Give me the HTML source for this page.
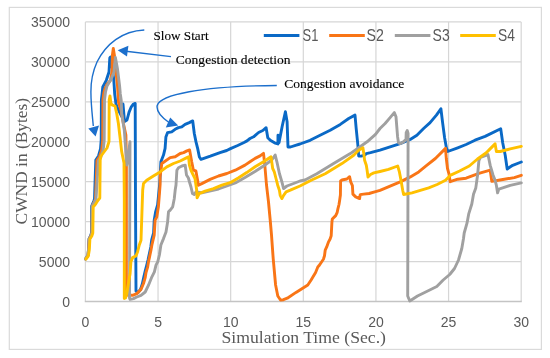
<!DOCTYPE html>
<html><head><meta charset="utf-8"><style>
html,body{margin:0;padding:0;background:#fff;}
svg{display:block;}
.tick{font-family:"Liberation Sans",sans-serif;font-size:14px;fill:#595959;}
.serif{font-family:"Liberation Serif",serif;fill:#000;}
.ann{stroke:#000;stroke-width:0.12px;}
</style></head><body>
<svg width="550" height="358" viewBox="0 0 550 358">
<rect x="0" y="0" width="550" height="358" fill="#fff"/>
<rect x="9.3" y="7.4" width="532.1" height="342" fill="none" stroke="#dadada" stroke-width="1.2"/>
<g stroke="#d6d6d6" stroke-width="1.2">
<line x1="85.4" y1="261.56" x2="521.2" y2="261.56"/>
<line x1="85.4" y1="221.61" x2="521.2" y2="221.61"/>
<line x1="85.4" y1="181.67" x2="521.2" y2="181.67"/>
<line x1="85.4" y1="141.73" x2="521.2" y2="141.73"/>
<line x1="85.4" y1="101.79" x2="521.2" y2="101.79"/>
<line x1="85.4" y1="61.84" x2="521.2" y2="61.84"/>
<line x1="85.4" y1="21.90" x2="521.2" y2="21.90"/>
<line x1="85.40" y1="21.9" x2="85.40" y2="301.5"/>
<line x1="158.03" y1="21.9" x2="158.03" y2="301.5"/>
<line x1="230.67" y1="21.9" x2="230.67" y2="301.5"/>
<line x1="303.30" y1="21.9" x2="303.30" y2="301.5"/>
<line x1="375.93" y1="21.9" x2="375.93" y2="301.5"/>
<line x1="448.57" y1="21.9" x2="448.57" y2="301.5"/>
<line x1="521.20" y1="21.9" x2="521.20" y2="301.5"/>
</g>
<line x1="84.80000000000001" y1="301.5" x2="521.8000000000001" y2="301.5" stroke="#c4c4c4" stroke-width="1.3"/>
<g class="tick">
<text x="70" y="306.50" text-anchor="end">0</text>
<text x="70" y="266.56" text-anchor="end">5000</text>
<text x="70" y="226.61" text-anchor="end">10000</text>
<text x="70" y="186.67" text-anchor="end">15000</text>
<text x="70" y="146.73" text-anchor="end">20000</text>
<text x="70" y="106.79" text-anchor="end">25000</text>
<text x="70" y="66.84" text-anchor="end">30000</text>
<text x="70" y="26.90" text-anchor="end">35000</text>
<text x="85.40" y="326.7" text-anchor="middle">0</text>
<text x="158.03" y="326.7" text-anchor="middle">5</text>
<text x="230.67" y="326.7" text-anchor="middle">10</text>
<text x="303.30" y="326.7" text-anchor="middle">15</text>
<text x="375.93" y="326.7" text-anchor="middle">20</text>
<text x="448.57" y="326.7" text-anchor="middle">25</text>
<text x="521.20" y="326.7" text-anchor="middle">30</text>
</g>
<g fill="none" stroke-width="2.9" stroke-linejoin="round" stroke-linecap="round">
<polyline stroke="#0A69C6" points="85.5,259 88,255 88.5,249 89,239 90.5,236 91.5,233 91.7,206 93.8,201 94.5,199 95.8,160 98.5,156 100.5,149 101.2,140 101.4,100 102.2,93 102.8,87 106.3,80.3 109,72 109.8,58 110.6,57 112.3,68 113.8,80 114.7,94 116,104 118.5,110 121.5,116 123,104 124.5,121.5 127,120 129,112.4 131.3,106.8 133.5,104 135.2,103.4 135.5,200 136,291 138,292.5 140.5,289.5 142.3,284 143.8,277 145.2,271 146.5,266 148,260 149.5,253 150.8,247 151.7,240 153.6,233 154.2,220.2 155.6,212 157.6,205 159.6,185 160.9,161.8 163.5,155.1 165.1,148.4 165.9,136.9 167.5,132.7 171.7,131.8 175.1,129.3 178.4,127.6 181.8,126.8 185.1,124.3 189.3,122.6 192.7,120.9 194.3,133.5 196,141.9 197.7,148.6 199.4,157 201,159.3 210.3,156.2 220,152.6 226.7,150.5 230.5,148.6 237.7,145.5 244,142.5 247,140.9 250,138.5 253.6,136.8 258.6,132.5 262.8,130.5 266.1,127.7 267.8,137.8 270.3,140.3 274.5,142.8 277.9,144 278,135.2 279,142.8 282.1,126.8 285.4,111.7 287.1,121.8 288,147 290.5,147 295.5,145.3 300,144 310.1,140.3 320.1,135.3 330.2,130.2 340.3,124.4 348.7,118.5 355,115.1 356.2,128.6 357.9,145.3 358.7,156 361.2,156.1 364.6,155.2 366.3,153.6 370.5,152.7 380,150.2 390.1,146.9 400.2,143.6 410.2,139.4 416.9,135.2 423.6,128.5 430.1,122.6 436.4,115.1 440.9,108.8 442.6,122.6 444.6,137.7 446.4,147.8 447.7,151.5 457.7,147.8 466.1,144.5 475,140.2 485.1,136.4 500.7,128.8 502.7,142.7 505.2,155.2 507.2,169 508.9,167.8 512.7,165.3 521.3,162"/>
<polyline stroke="#F97516" points="85.5,259 88,255.5 88.6,249 89.2,239 90.8,236 92,233 92.3,206 94.5,201.5 95.5,199 97,160.5 99.6,156.5 101.8,149.5 102.7,140 102.9,100 103.9,92.5 104.9,88.7 107,84.5 110.5,80.3 111.9,72 112.4,55.2 113.3,48.4 114.4,55.2 116,72 117.5,86 118,94 118.5,102 120.9,110 123.4,123.5 125.9,135 126.4,165 126.4,295 132.6,295.3 136.8,293.6 141,289.4 143.5,283.5 145.2,277.7 146,272.6 147.7,266.8 148.5,261.8 149.4,257.6 151,250 151.9,245 154.2,235.2 155.1,220.2 156.8,216.8 158.4,206.8 160.1,185 160.1,176.9 161.8,163.5 164.3,161.8 170.2,157.6 175.2,156.8 180.2,153.5 183.6,152.6 186.9,150.9 189.6,150 191.7,161.8 193.4,170.2 195.9,171 197.6,180.2 198.4,185.2 201.8,183.6 210.1,179.4 218.5,176 226.9,173.5 235.3,170.2 245,165.1 250,161.8 255.1,158.4 260.1,155.9 263.5,153.4 264.8,165 266.5,185 268.5,202 270.2,220 271.5,235 273.2,258.7 275.6,285 277.8,296 280.5,300 283.5,299.7 287.3,298.2 296,292.4 307.8,285 311.1,280 315.6,272.5 317.8,267 318.9,265.8 321.2,262.5 323.4,259.2 324.5,255.8 325.2,250.2 326.7,246.9 328.3,242.4 330.1,239 331.2,235.7 331.9,222.3 332.3,219 335.7,215.6 337.2,212.3 337.9,208.9 339,204.5 339.7,200 340.4,195 340.6,181 342,180 346.8,179 349.6,176.7 350.7,181.8 352.4,185.7 352.9,194.1 355.7,196.9 359.6,198.6 360.2,194.6 363.6,194.1 369.1,193.5 374.7,191.8 380,190.3 390.1,186.1 400.2,181.9 410.3,176.9 418.7,171.9 427,165.2 435.4,158.5 443.8,150.1 445.5,148.4 446.3,158.5 447.5,168.5 448.9,173.6 450.2,181.7 457.7,179.2 466.1,178.2 478.9,173.4 490.2,170.2 491.8,181.4 501.4,179.8 514.3,177.6 521.3,175.3"/>
<polyline stroke="#A0A0A0" points="85.5,259 88,255 88.7,249 89.3,239 91,236 92,233 92.5,206 95,201 96,199 98.4,161 100.8,157 103.2,150 104.2,140 104.5,100 105.5,92 107,86 111.2,79 114,72 115.4,57.5 117.5,69 119.6,86 120.3,94 121.2,100 121.7,113.5 124.3,130.2 126.8,165 130,141.7 129.5,298 130.1,299.4 133.5,298.6 136.8,297 141,295.3 145.2,292 148.5,285.2 151.9,276.8 154.4,271.8 156,265.1 157.7,261.8 159.4,255 160.9,245 163.5,238.6 166,231.9 167.6,221.9 168.5,211.8 170.2,210.1 172.7,206.8 174.3,198.4 175.2,190 176,185 176.9,170.2 178.5,167.7 181.9,166 185.2,165.2 186.5,175 188.4,178 189.5,182 191,187 192.5,193.6 194.2,194.6 195.9,192 201.8,192.8 218.5,189 235.3,183 245,177.5 255,171.5 263.5,166 271.8,160 275.2,155 276.9,161.8 279.4,173.5 281.9,181.9 283.6,188.6 286.9,186 293.6,183.5 300,181 305,180 316.8,173.7 333.6,163.6 350.3,153.6 358.7,147.7 367.1,141.8 375.5,134.3 380,128.5 385.1,123.5 390.1,117.6 394.3,112.6 396,116.8 396.8,126.8 397.6,136.9 398.5,142.7 400.2,143.6 403.5,141.9 406,139.4 406.2,132.7 407.2,130.5 408.1,133.5 407.7,296 409.8,301 417.5,296 427.2,291.3 436.8,286.5 443.2,280 449.7,274.5 454.5,268.5 458.5,260 461.8,248.5 463.5,238.5 464.2,233 467,223.2 468.8,213.6 471.8,204 473.5,194.3 475.8,187.9 477.6,175 478.9,160.5 480.5,157.3 485.4,155.7 488,154.5 490.2,165.4 493,175 495.1,180.4 496.4,185.4 497.6,192.9 498.9,189.1 502.7,187.9 510.2,185.4 521.3,182.9"/>
<polyline stroke="#FFC000" points="86,259 88.3,256 89.3,250 89.9,239 91.8,236 92.8,233 93.2,207 95.8,203.8 98.2,200 99.8,198 100.2,160 101,156 104,152 107,148 109,141.6 109.2,100 110,95.9 110.9,103.5 112.5,105.1 115,106 116.7,113.5 118.4,123.5 120,137 121.7,151.8 124,163 124.3,200 124.3,298.5 125.5,298 126.8,293.6 128.4,283.5 130.1,273.5 130.9,261.8 132.6,257.6 136,255.9 137.6,251.7 139.3,245 141,240.3 142.7,190 143.5,183.6 146.7,180.3 153.4,176 160.1,171.9 166.8,166.9 173.5,163.5 180.2,161 186.9,157.6 188.6,156.8 189.4,165 190.9,170.2 192.5,173.5 195,178.5 196.7,190.3 197.1,197.8 199.2,193.6 205.1,191.1 213.5,188.6 221.9,185.2 230.2,182.7 238.6,177.7 246.7,172.6 255.1,166.8 263.5,161.8 271,156.7 272.7,168.5 274.3,171.8 276,178.5 277.7,185.2 279.4,190.2 280.2,195.3 281.9,198.6 283.6,195.3 286.1,191.9 290.3,190.2 300,186 311.7,180 325.2,173.7 341.9,163.6 353.7,155.2 358.7,150.2 362.9,147.7 363.8,153.6 364.6,160.3 366.3,165.3 367.1,170.3 368,177 370.5,174.5 373.8,172.9 380,171.5 388.5,169.4 397.7,166 399.4,171.9 401,180.3 402.7,190.3 403.6,194.5 412,192.9 420.3,190.3 428.7,187.8 437.1,184.5 445.5,180.3 450.2,175.4 459.6,171 469.3,166 477.5,159 486.3,152.7 490.1,148.9 495.1,143.9 496.4,151.5 500.2,151.5 510.2,148.9 521.3,146.4"/>
</g>
<g stroke-width="2.8" stroke-linecap="butt">
<line x1="263.8" y1="35.5" x2="299.4" y2="35.5" stroke="#0A69C6"/>
<line x1="329.2" y1="35.5" x2="364.8" y2="35.5" stroke="#F97516"/>
<line x1="394.8" y1="35.5" x2="430.4" y2="35.5" stroke="#A0A0A0"/>
<line x1="460.2" y1="35.5" x2="495.8" y2="35.5" stroke="#FFC000"/>
</g>
<g class="tick" style="font-size:16.5px">
<text x="302.6" y="40.7" textLength="15.8" lengthAdjust="spacingAndGlyphs">S1</text>
<text x="366.6" y="40.7" textLength="17.3" lengthAdjust="spacingAndGlyphs">S2</text>
<text x="432.6" y="40.7" textLength="17.1" lengthAdjust="spacingAndGlyphs">S3</text>
<text x="498" y="40.7" textLength="16.9" lengthAdjust="spacingAndGlyphs">S4</text>
</g>
<g fill="none" stroke="#1C6FCC" stroke-width="1.4">
<path d="M144.3,30 C122,31 106,44 97,62 C92.5,72 90.8,82 90.9,92 C91,105 92.3,115 93.3,126"/>
<path d="M171,56.6 L126,51.3"/>
<path d="M276.8,85.5 C200,86 160,95 157.2,105.5 C156,112 161,117 169,122.5"/>
</g>
<g fill="#1C6FCC">
<polygon points="95.6,136.4 88.3,128.6 99,125.4"/>
<polygon points="117.7,50.2 128.4,45.8 127,56.6"/>
<polygon points="178.2,125.4 165.8,127.4 170.2,117.4"/>
</g>
<g class="serif ann" style="font-size:13.4px">
<text x="153.5" y="39.8" textLength="55.2" lengthAdjust="spacingAndGlyphs">Slow Start</text>
<text x="175.8" y="63.5" textLength="114.7" lengthAdjust="spacingAndGlyphs">Congestion detection</text>
<text x="284.3" y="88" textLength="120" lengthAdjust="spacingAndGlyphs">Congestion avoidance</text>
</g>
<text class="serif" x="221.5" y="342.8" textLength="164.5" lengthAdjust="spacingAndGlyphs" style="font-size:17px;fill:#595959">Simulation Time (Sec.)</text>
<text class="serif" transform="translate(27.3,224.4) rotate(-90)" x="0" y="0" textLength="126.5" lengthAdjust="spacingAndGlyphs" style="font-size:16.5px;fill:#595959">CWND in (Bytes)</text>
</svg>
</body></html>
